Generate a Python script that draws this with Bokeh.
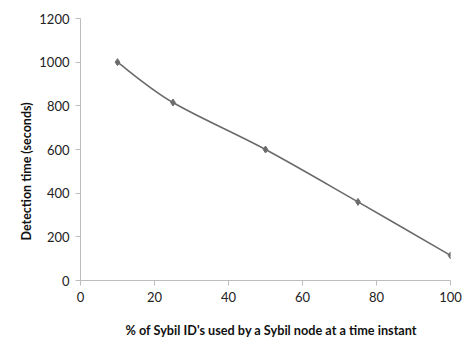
from bokeh.plotting import figure
from bokeh.models import Range1d, FixedTicker, Title
from bokeh.embed import file_html
from bokeh.resources import INLINE

x_pct = [10, 25, 50, 75, 100]
det_time = [1000, 815, 600, 360, 115]
x_ticks = [0, 20, 40, 60, 80, 100]
y_ticks = [0, 200, 400, 600, 800, 1000, 1200]
x_title = "% of Sybil ID's used by a Sybil node at a time instant"
y_title = "Detection time (seconds)"

p = figure(width=474, height=355, output_backend="svg", toolbar_location=None,
           x_range=Range1d(0, 100), y_range=Range1d(0, 1200),
           min_border_left=80, min_border_right=24, min_border_top=18, min_border_bottom=75)
p.outline_line_color = None
p.xgrid.grid_line_color = None
p.ygrid.grid_line_color = None

# smooth curve (Catmull-Rom -> cubic bezier) through the data points
n = len(x_pct)
x0, y0, x1, y1, cx0, cy0, cx1, cy1 = [], [], [], [], [], [], [], []
for i in range(n - 1):
    pa = (x_pct[max(i - 1, 0)], det_time[max(i - 1, 0)])
    pb = (x_pct[i], det_time[i])
    pc = (x_pct[i + 1], det_time[i + 1])
    pd = (x_pct[min(i + 2, n - 1)], det_time[min(i + 2, n - 1)])
    t = 1 / 6
    x0.append(pb[0]); y0.append(pb[1]); x1.append(pc[0]); y1.append(pc[1])
    cx0.append(pb[0] + (pc[0] - pa[0]) * t); cy0.append(pb[1] + (pc[1] - pa[1]) * t)
    cx1.append(pc[0] - (pd[0] - pb[0]) * t); cy1.append(pc[1] - (pd[1] - pb[1]) * t)
p.bezier(x0=x0, y0=y0, x1=x1, y1=y1, cx0=cx0, cy0=cy0, cx1=cx1, cy1=cy1,
         line_color="#6b6b6b", line_width=1.6)
p.scatter(x_pct, det_time, marker="diamond", size=7, color="#6b6b6b")

for ax in (p.xaxis[0], p.yaxis[0]):
    ax.axis_line_color = "#bdbdbd"
    ax.major_tick_line_color = "#bdbdbd"
    ax.minor_tick_line_color = None
    ax.major_tick_in = 0
    ax.major_tick_out = 5
    ax.major_label_text_font = "Lato"
    ax.major_label_text_font_size = "13px"
    ax.major_label_text_color = "#222222"

p.xaxis.ticker = FixedTicker(ticks=x_ticks)
p.yaxis.ticker = FixedTicker(ticks=y_ticks)
p.xaxis.major_label_standoff = 6
p.yaxis.major_label_standoff = 6

# axis titles as side-panel titles, positioned like the reference
ty = Title(text=y_title, align="left", offset=40, standoff=6, text_font="Lato",
           text_font_size="12.5px", text_font_style="bold", text_color="#111111")
p.add_layout(ty, "left")
tx = Title(text=x_title, align="left", offset=45, standoff=31, text_font="Lato",
           text_font_size="12.7px", text_font_style="bold", text_color="#111111")
p.add_layout(tx, "below")

open("out.html", "w").write(file_html(p, INLINE))
